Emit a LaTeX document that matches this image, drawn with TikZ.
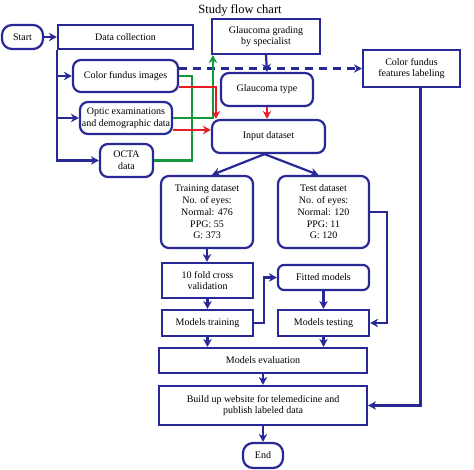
\documentclass[tikz,border=0pt]{standalone}
\usepackage{fontspec}
\setmainfont{Liberation Serif}
\usetikzlibrary{arrows.meta,calc}
\definecolor{nblue}{RGB}{40,40,150}
\definecolor{nred}{RGB}{232,28,36}
\definecolor{ngreen}{RGB}{20,150,60}
\tikzset{
  box/.style={draw=nblue, line width=2.2pt, fill=white, align=center, inner sep=0pt,
    font=\fontsize{10}{11.7}\selectfont},
  rbox/.style={box, rounded corners=8pt},
  conn/.style={nblue, line width=2.2pt},
  arr/.style={conn, -{Stealth[length=8pt,width=8.5pt]}},
  redarr/.style={nred, line width=2.2pt, -{Stealth[length=8pt,width=8.5pt]}},
  gline/.style={ngreen, line width=2.2pt},
  garr/.style={gline, -{Stealth[length=8pt,width=8.5pt]}},
}
\begin{document}
\begin{tikzpicture}[x=1pt,y=-1pt]
\useasboundingbox (0,0) rectangle (474,470);
\node[font=\fontsize{12.5}{14}\selectfont] (title) at (240,10) {Study flow chart};
% boxes
\node[rbox, rounded corners=10pt, minimum width=41pt, minimum height=24pt] (start) at (22.5,37) {Start};
\node[box, minimum width=135pt, minimum height=24pt] (datacol) at (125.5,37) {Data collection};
\node[box, minimum width=108pt, minimum height=35pt] (grading) at (266,36.5) {Glaucoma grading\\by specialist};
\node[box, minimum width=97pt, minimum height=37pt] (features) at (411.5,68.5) {Color fundus\\features labeling};
\node[rbox, minimum width=105pt, minimum height=32pt] (cfi) at (125.5,76) {Color fundus images};
\node[rbox, minimum width=92pt, minimum height=32pt] (optic) at (126,118) {Optic examinations\\and demographic data};
\node[rbox, minimum width=53pt, minimum height=33pt] (octa) at (126.5,160.5) {OCTA\\data};
\node[rbox, minimum width=92pt, minimum height=33pt] (gtype) at (267,89.5) {Glaucoma type};
\node[rbox, minimum width=113pt, minimum height=33pt] (input) at (268.5,136.5) {Input dataset};
\node[rbox, minimum width=92pt, minimum height=72pt] (train) at (207,212) {Training dataset\\No. of eyes:\\Normal: 476\\PPG: 55\\G: 373};
\node[rbox, minimum width=91pt, minimum height=72pt] (test) at (323.5,212) {Test dataset\\No. of eyes:\\Normal: 120\\PPG: 11\\G: 120};
\node[box, minimum width=91pt, minimum height=35pt] (fold) at (207.5,280.5) {10 fold cross\\validation};
\node[rbox, rounded corners=6pt, minimum width=91pt, minimum height=25pt] (fitted) at (323.5,277.5) {Fitted models};
\node[box, minimum width=91pt, minimum height=26pt] (mtrain) at (207.5,323) {Models training};
\node[box, minimum width=91pt, minimum height=26pt] (mtest) at (323.5,323) {Models testing};
\node[box, minimum width=208pt, minimum height=25pt] (eval) at (263,360.5) {Models evaluation};
\node[box, minimum width=208pt, minimum height=39pt] (build) at (263,405.5) {Build up website for telemedicine and\\publish labeled data};
\node[rbox, rounded corners=10pt, minimum width=40pt, minimum height=25pt] (end) at (263,455.5) {End};
% connectors
\draw[arr] (start) -- (datacol);
\draw[arr] (datacol.south west) |- (octa.west);
\draw[arr] (datacol.south west |- cfi.west) -- (cfi.west);
\draw[arr] (datacol.south west |- optic.west) -- (optic.west);
\draw[arr, dash pattern=on 8pt off 6pt] (cfi.east |- features.west) -- (features.west);
\draw[arr] (grading.south) -- (gtype.north);
\draw[redarr] (gtype.south) -- (gtype.south |- input.north);
\coordinate (gx) at (192,0);
\draw[gline] (cfi.east) -| (gx |- octa.east) -- (octa.east);
\draw[garr] (optic.east) -| ([xshift=2pt]grading.south west);
\draw[redarr] ([yshift=-11pt]cfi.east) -| ([xshift=5pt]input.north west);
\draw[redarr] ([yshift=-12pt]optic.east) -- ([yshift=-12pt]optic.east -| input.west);
\draw[arr] ([xshift=-4pt]input.south) -- ([xshift=5pt]train.north);
\draw[arr] ([xshift=-4pt]input.south) -- ([xshift=-5pt]test.north);
\draw[arr] (train.south) -- (train.south |- fold.north);
\draw[arr] (fold) -- (mtrain);
\draw[arr] (mtrain.east) -- ++(10,0) |- (fitted.west);
\draw[arr] (fitted) -- (mtest);
\draw[arr] (test.east) -- ++(17,0) |- (mtest.east);
\draw[arr] (mtrain.south) -- (mtrain.south |- eval.north);
\draw[arr] (mtest.south) -- (mtest.south |- eval.north);
\draw[arr] (eval) -- (build);
\draw[arr] ([xshift=9pt]features.south) |- (build.east);
\draw[arr] (build) -- (end);
\end{tikzpicture}
\end{document}
